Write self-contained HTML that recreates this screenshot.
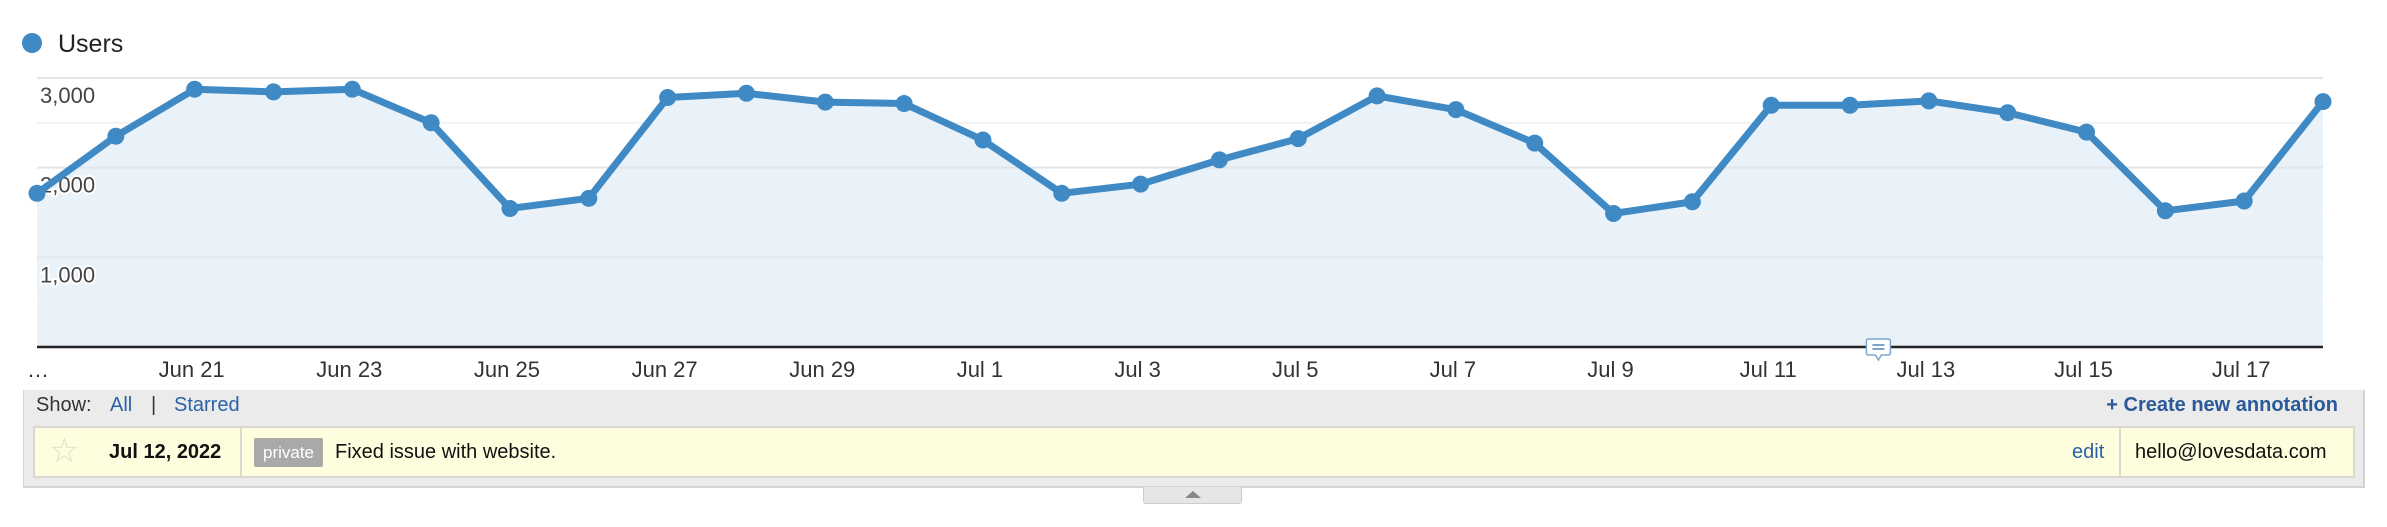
<!DOCTYPE html>
<html><head><meta charset="utf-8"><style>
body{margin:0;width:2387px;height:527px;background:#fff;overflow:hidden;font-family:"Liberation Sans",sans-serif;position:relative}
.abs{position:absolute}
</style></head><body>
<svg class="abs" style="left:0;top:0" width="2387" height="527">
<g id="g"></g>
</svg>
<div class="abs" style="left:23px;top:390px;width:2342px;height:98px;background:#ebebeb;border-right:2px solid #d4d4d4;border-bottom:2px solid #d4d4d4;border-left:1px solid #d4d4d4;box-sizing:border-box"></div>
<div class="abs" style="left:36px;top:393px;font-size:20px;line-height:24px;color:#333">Show:</div>
<div class="abs" style="left:110px;top:393px;font-size:20px;line-height:24px;color:#2a62a8">All</div>
<div class="abs" style="left:151px;top:393px;font-size:20px;line-height:24px;color:#333">|</div>
<div class="abs" style="left:174px;top:393px;font-size:20px;line-height:24px;color:#2a62a8">Starred</div>
<div class="abs" style="left:2038px;top:393px;width:300px;text-align:right;font-size:20px;line-height:24px;color:#2a5a9a;font-weight:bold">+ Create new annotation</div>
<div class="abs" style="left:33px;top:426px;width:2322px;height:52px;background:#fefede;border:2px solid #d8d8d0;box-sizing:border-box"></div>
<div class="abs" style="left:240px;top:427px;width:2px;height:50px;background:#d8d8d0"></div>
<div class="abs" style="left:2119px;top:427px;width:2px;height:50px;background:#d8d8d0"></div>
<div class="abs" style="left:49px;top:432px;font-size:34px;line-height:38px;color:#dcdccc">☆</div>
<div class="abs" style="left:109px;top:440px;font-size:20px;line-height:24px;font-weight:bold;color:#111">Jul 12, 2022</div>
<div class="abs" style="left:254px;top:438px;width:69px;height:29px;background:#a9a9a9;color:#fff;font-size:17px;line-height:29px;text-align:center;border-radius:2px">private</div>
<div class="abs" style="left:335px;top:440px;font-size:20px;line-height:24px;color:#111">Fixed issue with website.</div>
<div class="abs" style="left:2072px;top:440px;font-size:20px;line-height:24px;color:#2a62a8">edit</div>
<div class="abs" style="left:2135px;top:440px;font-size:20px;line-height:24px;color:#111">hello@lovesdata.com</div>
<div class="abs" style="left:1143px;top:487px;width:99px;height:17px;background:#e6e6e6;border:1px solid #ccc;border-top:none;border-radius:0 0 3px 3px;box-sizing:border-box"><div style="margin:4px auto 0;width:0;height:0;border-left:8px solid transparent;border-right:8px solid transparent;border-bottom:7px solid #888"></div></div>
<script>
const dates=["Jun 19","Jun 20","Jun 21","Jun 22","Jun 23","Jun 24","Jun 25","Jun 26","Jun 27","Jun 28","Jun 29","Jun 30","Jul 1","Jul 2","Jul 3","Jul 4","Jul 5","Jul 6","Jul 7","Jul 8","Jul 9","Jul 10","Jul 11","Jul 12","Jul 13","Jul 14","Jul 15","Jul 16","Jul 17","Jul 18"];
const users=[1714,2351,2875,2845,2875,2501,1545,1658,2782,2830,2731,2715,2308,1714,1816,2087,2324,2800,2647,2274,1489,1620,2696,2696,2745,2613,2396,1519,1628,2737];
const yTicks=[1000,2000,3000];
const yGrid=[500,1000,1500,2000,2500,3000];
const xLabelIdx=[2,4,6,8,10,12,14,16,18,20,22,24,26,28];
const annotationIdx=[23.36];
const L=37,R=2323,B=347,T=78,MAX=3000;
const x=i=>L+i*(R-L)/(dates.length-1);
const y=v=>B-v*(B-T)/MAX;
const NS="http://www.w3.org/2000/svg";
const g=document.getElementById('g');
function mk(t,a,txt){const e=document.createElementNS(NS,t);for(const k in a)e.setAttribute(k,a[k]);if(txt!=null)e.textContent=txt;g.appendChild(e);return e;}
let e=mk('circle',{cx:32,cy:43,r:10,fill:'#3f8ac5'});


e=mk('text',{x:58,y:52,'font-size':25,fill:'#222','font-family':'Liberation Sans'},'Users');


let d='M'+x(0)+','+B;users.forEach((v,i)=>d+=' L'+x(i)+','+y(v));d+=' L'+x(users.length-1)+','+B+'Z';
e=mk('path',{d:d,fill:'#e9f1f9'});


yGrid.forEach(v=>{const l=mk('line',{x1:L,x2:R,y1:y(v),y2:y(v),stroke:v%1000?'#f0f3f6':'#e2e6ea','stroke-width':2});

});
yTicks.forEach(v=>{const t=mk('text',{x:40,y:y(v)+25,'font-size':22,fill:'#444','font-family':'Liberation Sans',stroke:'#fff','stroke-width':4,'paint-order':'stroke'},v.toLocaleString('en-US'));

});
e=mk('line',{x1:L,x2:R,y1:B,y2:B,stroke:'#222','stroke-width':2.5});


let p='';users.forEach((v,i)=>p+=(i?' L':'M')+x(i)+','+y(v));
e=mk('path',{d:p,fill:'none',stroke:'#3f8ac5','stroke-width':7,'stroke-linejoin':'round'});


users.forEach((v,i)=>{const c=mk('circle',{cx:x(i),cy:y(v),r:8.5,fill:'#3f8ac5'});

});
e=mk('text',{x:38,y:377,'font-size':22,fill:'#333','text-anchor':'middle','font-family':'Liberation Sans'},'…');


xLabelIdx.forEach(i=>{const t=mk('text',{x:x(i)-3,y:377,'font-size':22,fill:'#333','text-anchor':'middle','font-family':'Liberation Sans'},dates[i]);

});
annotationIdx.forEach(i=>{const ax=x(i);
const r=mk('path',{d:`M${ax-10},${B-8} h20 a2,2 0 0 1 2,2 v12 a2,2 0 0 1 -2,2 h-7 l-3,5 l-3,-5 h-7 a2,2 0 0 1 -2,-2 v-12 a2,2 0 0 1 2,-2z`,fill:'#fff',stroke:'#7aa5cf','stroke-width':1.5});


mk('line',{x1:ax-6,x2:ax+6,y1:B-2,y2:B-2,stroke:'#7aa5cf','stroke-width':2});
mk('line',{x1:ax-6,x2:ax+6,y1:B+2,y2:B+2,stroke:'#7aa5cf','stroke-width':2});});
</script>
</body></html>
